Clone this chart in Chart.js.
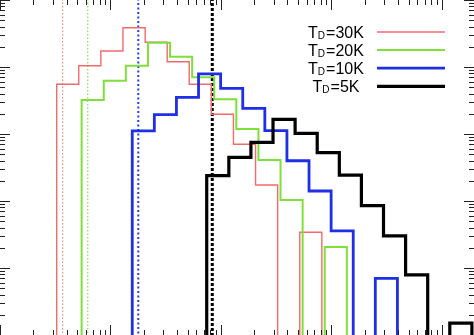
<!DOCTYPE html>
<html lang="en">

<head>
    <meta charset="utf-8">
    <title>Dust temperature histograms</title>
    <style>
        html, body { margin: 0; padding: 0; background: #fff; }
        .chart-box { position: relative; width: 474px; height: 335px; }
    </style>
</head>

<body>
    <div class="chart-box">
        <canvas id="histChart"></canvas>
    </div>
    <script src="https://cdn.jsdelivr.net/npm/chart.js"></script>
    <script>
        // log-spaced bin edges (13 each) and fraction per bin (0 = empty bin)
        const redEdges = [3.26, 5.16, 8.18, 12.97, 20.6, 32.6, 51.6, 81.8, 129.7, 205.6, 325.8, 516.4, 818.5];
        const redFrac = [0.0552, 0.1046, 0.173, 0.386, 0.234, 0.120, 0.0552, 0.0197, 0.00702, 0.00173, 0, 0.000341];

        const greenEdges = [5.48, 8.69, 13.77, 21.83, 34.59, 54.83, 86.9, 137.7, 218.3, 345.9, 548.3, 869.0, 1377];
        const greenFrac = [0.0322, 0.0625, 0.1046, 0.2306, 0.1425, 0.0702, 0.0330, 0.01188, 0.00409, 0.001035, 0, 0.000206];

        const blueEdges = [15.74, 24.94, 39.53, 62.65, 99.29, 157.4, 249.4, 395.3, 626.5, 992.9, 1574, 2494, 3953];
        const blueFrac = [0.0111, 0.0195, 0.0353, 0.0787, 0.0481, 0.0242, 0.0112, 0.00399, 0.00141, 0.000357, 0, 0.0000702];

        const blackEdges = [74.3, 117.8, 186.6, 295.8, 468.8, 743.0, 1178, 1866, 2958, 4688, 7430, 11776, 18664];
        const blackFrac = [0.00239, 0.00449, 0.00752, 0.01657, 0.01024, 0.00526, 0.00244, 0.000851, 0.000301, 0.0000787, 0, 0.0000150];

        // mean of each distribution (dotted verticals)
        const means = [3.69, 6.22, 17.85, 83.4];

        const temps = ['30K', '20K', '10K', '5K'];
        const colors = ['#f26b6b', '#7fe03c', '#1f2fe6', '#000000'];
        const widths = [1.4, 2, 2.8, 3.2];

        const FLOOR = 1e-8; // below the y range, used for empty bins

        // stepped outline of one histogram
        function outline(edges, frac) {
            const pts = [{ x: edges[0], y: FLOOR }];
            frac.forEach((f, i) => pts.push({ x: edges[i], y: f > 0 ? f : FLOOR }));
            pts.push({ x: edges[edges.length - 1], y: FLOOR });
            return pts;
        }

        const hists = [
            outline(redEdges, redFrac),
            outline(greenEdges, greenFrac),
            outline(blueEdges, blueFrac),
            outline(blackEdges, blackFrac)
        ];

        const dashes = [[1.5, 2], [1.5, 2], [2, 2.5], [3, 2]];
        const dotColors = ['#f58a8a', '#93e35a', '#2a3be6', '#000000'];
        const dotWidths = [1.2, 1.4, 2, 3];

        const datasets = [];
        hists.forEach((pts, i) => {
            datasets.push({
                label: 'T_D=' + temps[i],
                data: pts,
                stepped: true,
                borderColor: colors[i],
                borderWidth: widths[i],
                pointRadius: 0,
                fill: false,
                order: 4 - i
            });
        });
        means.forEach((m, i) => {
            datasets.push({
                label: 'mean ' + temps[i],
                data: [{ x: m, y: FLOOR }, { x: m, y: 10 }],
                borderColor: dotColors[i],
                borderWidth: dotWidths[i],
                borderDash: dashes[i],
                pointRadius: 0,
                fill: false,
                order: 10
            });
        });

        // inward log tick marks on all four sides
        const logTicks = {
            id: 'logTicks',
            afterDraw(chart) {
                const ctx = chart.ctx;
                const a = chart.chartArea;
                ctx.save();
                ctx.strokeStyle = '#222';
                ctx.lineWidth = 1;
                ctx.beginPath();
                ['x', 'y'].forEach(id => {
                    const s = chart.scales[id];
                    const lo = Math.floor(Math.log10(s.min));
                    const hi = Math.ceil(Math.log10(s.max));
                    for (let e = lo; e <= hi; e++) {
                        for (let m = 1; m <= 9; m++) {
                            const v = m * Math.pow(10, e);
                            if (v < s.min * 0.999 || v > s.max * 1.001) continue;
                            const p = Math.round(s.getPixelForValue(v)) + 0.5;
                            const len = m === 1 ? 10 : 5;
                            if (id === 'x') {
                                ctx.moveTo(p, a.bottom); ctx.lineTo(p, a.bottom - len);
                                ctx.moveTo(p, a.top); ctx.lineTo(p, a.top + len);
                            } else {
                                ctx.moveTo(a.left, p); ctx.lineTo(a.left + len, p);
                                ctx.moveTo(a.right, p); ctx.lineTo(a.right - len, p);
                            }
                        }
                    }
                });
                ctx.stroke();
                ctx.restore();
            }
        };

        // legend: text with subscript, then a line sample on its right
        const tdLegend = {
            id: 'tdLegend',
            afterDraw(chart) {
                const ctx = chart.ctx;
                ctx.save();
                ctx.fillStyle = '#000';
                ctx.textBaseline = 'alphabetic';
                temps.forEach((t, i) => {
                    const y = 32 + i * 18.1;
                    const big = '16px "Liberation Sans", Arial, sans-serif';
                    const small = '10px "Liberation Sans", Arial, sans-serif';
                    ctx.font = big;
                    const wT = ctx.measureText('T').width;
                    const wRest = ctx.measureText('=' + t).width;
                    ctx.font = small;
                    const wD = ctx.measureText('D').width;
                    const total = wT + wD + 1 + wRest;
                    let x = 336 - total / 2;
                    ctx.font = big;
                    ctx.fillText('T', x, y + 5.5);
                    x += wT;
                    ctx.font = small;
                    ctx.fillText('D', x, y + 7);
                    x += wD + 1;
                    ctx.font = big;
                    ctx.fillText('=' + t, x, y + 5.5);

                    ctx.strokeStyle = colors[i];
                    ctx.lineWidth = widths[i];
                    ctx.beginPath();
                    ctx.moveTo(377, y);
                    ctx.lineTo(445, y);
                    ctx.stroke();
                });
                ctx.restore();
            }
        };

        const ctx = document.getElementById('histChart').getContext('2d');
        const histChart = new Chart(ctx, {
            type: 'line',
            data: { datasets: datasets },
            options: {
                responsive: true,
                maintainAspectRatio: false,
                animation: false,
                layout: { padding: 0 },
                plugins: {
                    legend: { display: false },
                    tooltip: { enabled: false }
                },
                scales: {
                    x: { type: 'logarithmic', min: 1, max: 19500, display: false },
                    y: { type: 'logarithmic', min: 1e-5, max: 1, display: false }
                }
            },
            plugins: [logTicks, tdLegend]
        });
    </script>
</body>

</html>
